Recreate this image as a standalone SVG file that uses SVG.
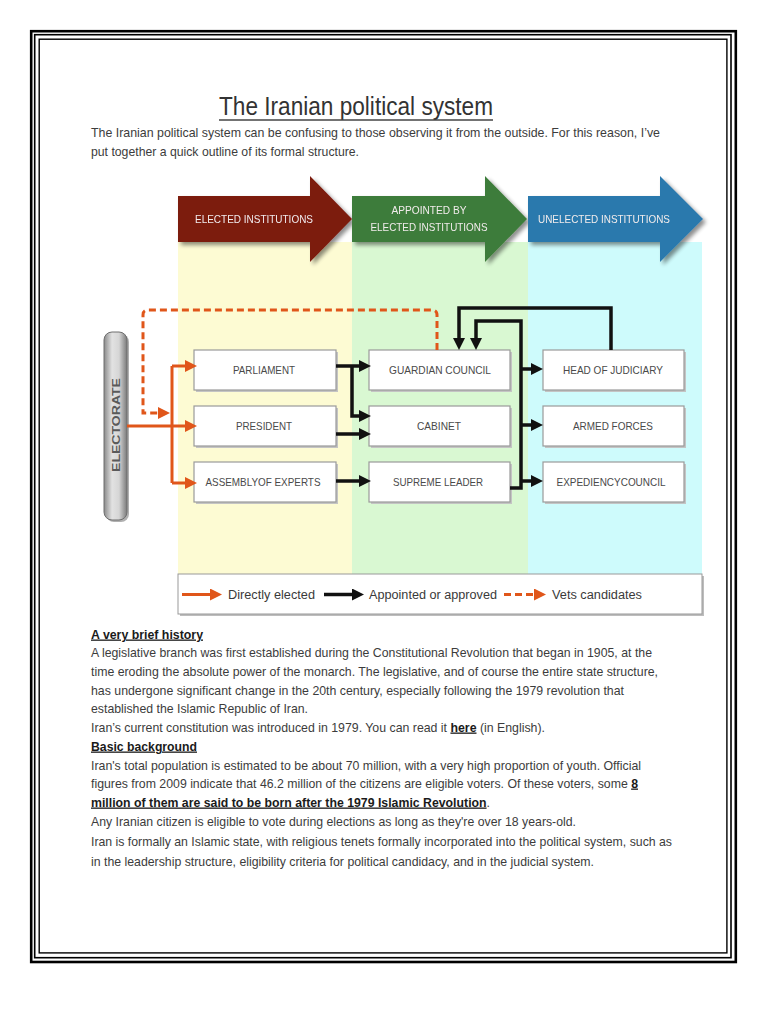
<svg xmlns="http://www.w3.org/2000/svg" width="768" height="1024" viewBox="0 0 768 1024">
<style>
.body{font-family:"Liberation Sans Narrow","Liberation Sans",Arial,sans-serif;font-size:13px;fill:#3c3c3c}
.bold{font-weight:bold;fill:#1a1a1a}
.ul{font-weight:bold;fill:#1a1a1a;text-decoration:underline}
.node rect.box{fill:#fff;stroke:#9a9a9a;stroke-width:1.2}
.node rect.sh{fill:#c4c4c4}
.ntext{font-family:"Liberation Sans Narrow","Liberation Sans",Arial,sans-serif;font-size:11.5px;fill:#4a4a4a;text-anchor:middle}
.atext{font-family:"Liberation Sans Narrow","Liberation Sans",Arial,sans-serif;font-size:11px;fill:#f1ecec;text-anchor:middle}
.ltext{font-family:"Liberation Sans Narrow","Liberation Sans",Arial,sans-serif;font-size:12px;fill:#3a3a3a}
.or{fill:none;stroke:#e0561a;stroke-width:3}
.bk{fill:none;stroke:#111;stroke-width:3.5}
.dash{fill:none;stroke:#e0561a;stroke-width:3;stroke-dasharray:7 4}
</style>
<defs>
<marker id="ao" markerUnits="userSpaceOnUse" markerWidth="13" markerHeight="13" refX="3" refY="6" orient="auto">
<path d="M0,0 L12,6 L0,12 Z" fill="#e0561a"/>
</marker>
<marker id="ab" markerUnits="userSpaceOnUse" markerWidth="13" markerHeight="13" refX="3" refY="6" orient="auto">
<path d="M0,0 L12,6 L0,12 Z" fill="#111"/>
</marker>
<linearGradient id="pill" x1="0" y1="0" x2="1" y2="0">
<stop offset="0" stop-color="#8a8a8a"/>
<stop offset="0.35" stop-color="#e2e2e2"/>
<stop offset="0.65" stop-color="#d6d6d6"/>
<stop offset="1" stop-color="#7a7a7a"/>
</linearGradient>
<filter id="shadow" x="-10%" y="-10%" width="130%" height="130%">
<feGaussianBlur in="SourceAlpha" stdDeviation="2"/>
<feOffset dx="3" dy="3" result="b"/>
<feComponentTransfer><feFuncA type="linear" slope="0.45"/></feComponentTransfer>
<feMerge><feMergeNode/><feMergeNode in="SourceGraphic"/></feMerge>
</filter>
</defs>

<rect width="768" height="1024" fill="#fff"/>

<!-- page border -->
<g fill="none" stroke="#000">
<rect x="31.2" y="31.2" width="704.6" height="930.8" stroke-width="2.6"/>
<rect x="34.7" y="34.7" width="696.3" height="923" stroke-width="1.6"/>
<rect x="39.2" y="39.2" width="687.7" height="913.7" stroke-width="1.4"/>
</g>

<!-- title & intro -->
<text x="219" y="115" font-family="'Liberation Sans Narrow','Liberation Sans',Arial,sans-serif" font-size="25" fill="#333" textLength="274" lengthAdjust="spacingAndGlyphs">The Iranian political system</text>
<line x1="219" y1="120" x2="493" y2="120" stroke="#444" stroke-width="1.3"/>
<text class="body" x="91" y="136.5" textLength="569" lengthAdjust="spacingAndGlyphs">The Iranian political system can be confusing to those observing it from the outside. For this reason, I’ve</text>
<text class="body" x="91" y="156" textLength="268" lengthAdjust="spacingAndGlyphs">put together a quick outline of its formal structure.</text>

<!-- column backgrounds -->
<rect x="178" y="242" width="174" height="332" fill="#fdfbd3"/>
<rect x="352" y="242" width="176" height="332" fill="#d9f8d2"/>
<rect x="528" y="242" width="174" height="332" fill="#cefbfc"/>

<!-- header arrows -->
<g id="hdr-elected" filter="url(#shadow)">
<polygon points="178,196 310,196 310,176 352,219 310,262 310,242 178,242" fill="#7c1a10"/>
<text class="atext" x="254" y="223" textLength="118" lengthAdjust="spacingAndGlyphs">ELECTED INSTITUTIONS</text>
</g>
<g id="hdr-appointed" filter="url(#shadow)">
<polygon points="352,196 485,196 485,176 527,219 485,262 485,242 352,242" fill="#3e7b3a"/>
<text class="atext" x="429" y="214" textLength="75" lengthAdjust="spacingAndGlyphs">APPOINTED BY</text>
<text class="atext" x="429" y="231" textLength="117" lengthAdjust="spacingAndGlyphs">ELECTED INSTITUTIONS</text>
</g>
<g id="hdr-unelected" filter="url(#shadow)">
<polygon points="528,196 660,196 660,176 703,219 660,262 660,242 528,242" fill="#2b79ad"/>
<text class="atext" x="604" y="223" textLength="132" lengthAdjust="spacingAndGlyphs">UNELECTED INSTITUTIONS</text>
</g>

<!-- electorate -->
<g id="electorate">
<rect x="106" y="334" width="23" height="188" rx="8" fill="#b0b0b0"/>
<rect x="104" y="332" width="23" height="188" rx="8" fill="url(#pill)" stroke="#6e6e6e" stroke-width="1"/>
<text transform="translate(119.5,425) rotate(-90)" text-anchor="middle" font-family="'Liberation Sans Narrow','Liberation Sans',Arial,sans-serif" font-size="11" font-weight="bold" fill="#5a5a5a" textLength="94" lengthAdjust="spacingAndGlyphs">ELECTORATE</text>
</g>

<!-- nodes -->
<g id="parliament" class="node"><rect class="sh" x="196" y="352" width="142" height="40"/><rect class="box" x="194" y="350" width="142" height="40"/><text class="ntext" x="264" y="374" textLength="62" lengthAdjust="spacingAndGlyphs">PARLIAMENT</text></g>
<g id="president" class="node"><rect class="sh" x="196" y="408" width="142" height="40"/><rect class="box" x="194" y="406" width="142" height="40"/><text class="ntext" x="264" y="430" textLength="56" lengthAdjust="spacingAndGlyphs">PRESIDENT</text></g>
<g id="assembly" class="node"><rect class="sh" x="196" y="464" width="142" height="40"/><rect class="box" x="194" y="462" width="142" height="40"/><text class="ntext" x="263" y="486" textLength="115" lengthAdjust="spacingAndGlyphs">ASSEMBLYOF EXPERTS</text></g>

<g id="guardian" class="node"><rect class="sh" x="371" y="352" width="141" height="40"/><rect class="box" x="369" y="350" width="141" height="40"/><text class="ntext" x="440" y="374" textLength="102" lengthAdjust="spacingAndGlyphs">GUARDIAN COUNCIL</text></g>
<g id="cabinet" class="node"><rect class="sh" x="371" y="408" width="141" height="40"/><rect class="box" x="369" y="406" width="141" height="40"/><text class="ntext" x="439" y="430" textLength="44" lengthAdjust="spacingAndGlyphs">CABINET</text></g>
<g id="supreme" class="node"><rect class="sh" x="371" y="464" width="141" height="40"/><rect class="box" x="369" y="462" width="141" height="40"/><text class="ntext" x="438" y="486" textLength="90" lengthAdjust="spacingAndGlyphs">SUPREME LEADER</text></g>

<g id="judiciary" class="node"><rect class="sh" x="545" y="352" width="141" height="40"/><rect class="box" x="543" y="350" width="141" height="40"/><text class="ntext" x="613" y="374" textLength="100" lengthAdjust="spacingAndGlyphs">HEAD OF JUDICIARY</text></g>
<g id="armed" class="node"><rect class="sh" x="545" y="408" width="141" height="40"/><rect class="box" x="543" y="406" width="141" height="40"/><text class="ntext" x="613" y="430" textLength="80" lengthAdjust="spacingAndGlyphs">ARMED FORCES</text></g>
<g id="expediency" class="node"><rect class="sh" x="545" y="464" width="141" height="40"/><rect class="box" x="543" y="462" width="141" height="40"/><text class="ntext" x="611" y="486" textLength="109" lengthAdjust="spacingAndGlyphs">EXPEDIENCYCOUNCIL</text></g>

<!-- connectors -->
<g id="connectors">
<path class="or" d="M127,426 H188" marker-end="url(#ao)"/>
<path class="or" d="M172,366 V483"/>
<path class="or" d="M172,366 H188" marker-end="url(#ao)"/>
<path class="or" d="M172,483 H188" marker-end="url(#ao)"/>
<path class="dash" d="M437,350 V315 Q437,310 432,310 H148 Q143,310 143,315 V413 H161" marker-end="url(#ao)"/>

<path class="bk" d="M336,366 H362" marker-end="url(#ab)"/>
<path class="bk" d="M352,366 V416 H362" marker-end="url(#ab)"/>
<path class="bk" d="M336,434 H362" marker-end="url(#ab)"/>
<path class="bk" d="M336,481 H362" marker-end="url(#ab)"/>
<path class="bk" d="M510,488 H521 V321 H476 V341" marker-end="url(#ab)"/>
<path class="bk" d="M521,369 H534" marker-end="url(#ab)"/>
<path class="bk" d="M521,425 H534" marker-end="url(#ab)"/>
<path class="bk" d="M521,481 H534" marker-end="url(#ab)"/>
<path class="bk" d="M611,350 V308 H459 V341" marker-end="url(#ab)"/>
</g>

<!-- legend -->
<g id="legend">
<rect x="180" y="576" width="524" height="40" fill="#bdbdbd"/>
<rect x="178" y="574" width="524" height="40" fill="#fff" stroke="#999" stroke-width="1"/>
<path class="or" d="M182,594.5 H213" marker-end="url(#ao)"/>
<text class="ltext" x="228" y="598.5" textLength="87" lengthAdjust="spacingAndGlyphs">Directly elected</text>
<path class="bk" d="M324,594.5 H355" marker-end="url(#ab)"/>
<text class="ltext" x="369" y="598.5" textLength="128" lengthAdjust="spacingAndGlyphs">Appointed or approved</text>
<path class="dash" d="M504,594.5 H537" marker-end="url(#ao)"/>
<text class="ltext" x="552" y="598.5" textLength="90" lengthAdjust="spacingAndGlyphs">Vets candidates</text>
</g>

<!-- body text -->
<text class="body" x="91" y="638.5" textLength="112" lengthAdjust="spacingAndGlyphs"><tspan class="ul">A very brief history</tspan></text>
<text class="body" x="91" y="656.5" textLength="561" lengthAdjust="spacingAndGlyphs">A legislative branch was first established during the Constitutional Revolution that began in 1905, at the</text>
<text class="body" x="91" y="675.5" textLength="567" lengthAdjust="spacingAndGlyphs">time eroding the absolute power of the monarch. The legislative, and of course the entire state structure,</text>
<text class="body" x="91" y="694.5" textLength="533" lengthAdjust="spacingAndGlyphs">has undergone significant change in the 20th century, especially following the 1979 revolution that</text>
<text class="body" x="91" y="712.5" textLength="217" lengthAdjust="spacingAndGlyphs">established the Islamic Republic of Iran.</text>
<text class="body" x="91" y="731.5" textLength="454" lengthAdjust="spacingAndGlyphs">Iran’s current constitution was introduced in 1979. You can read it <tspan class="ul">here</tspan> (in English).</text>
<text class="body" x="91" y="750.5" textLength="106" lengthAdjust="spacingAndGlyphs"><tspan class="ul">Basic background</tspan></text>
<text class="body" x="91" y="769.5" textLength="550" lengthAdjust="spacingAndGlyphs">Iran's total population is estimated to be about 70 million, with a very high proportion of youth. Official</text>
<text class="body" x="91" y="787.5" textLength="547" lengthAdjust="spacingAndGlyphs">figures from 2009 indicate that 46.2 million of the citizens are eligible voters. Of these voters, some <tspan class="ul">8</tspan></text>
<text class="body" x="91" y="806.5" textLength="399" lengthAdjust="spacingAndGlyphs"><tspan class="ul">million of them are said to be born after the 1979 Islamic Revolution</tspan>.</text>
<text class="body" x="91" y="825.5" textLength="485" lengthAdjust="spacingAndGlyphs">Any Iranian citizen is eligible to vote during elections as long as they're over 18 years-old.</text>
<text class="body" x="91" y="845.5" textLength="581" lengthAdjust="spacingAndGlyphs">Iran is formally an Islamic state, with religious tenets formally incorporated into the political system, such as</text>
<text class="body" x="91" y="865.5" textLength="503" lengthAdjust="spacingAndGlyphs">in the leadership structure, eligibility criteria for political candidacy, and in the judicial system.</text>
</svg>
